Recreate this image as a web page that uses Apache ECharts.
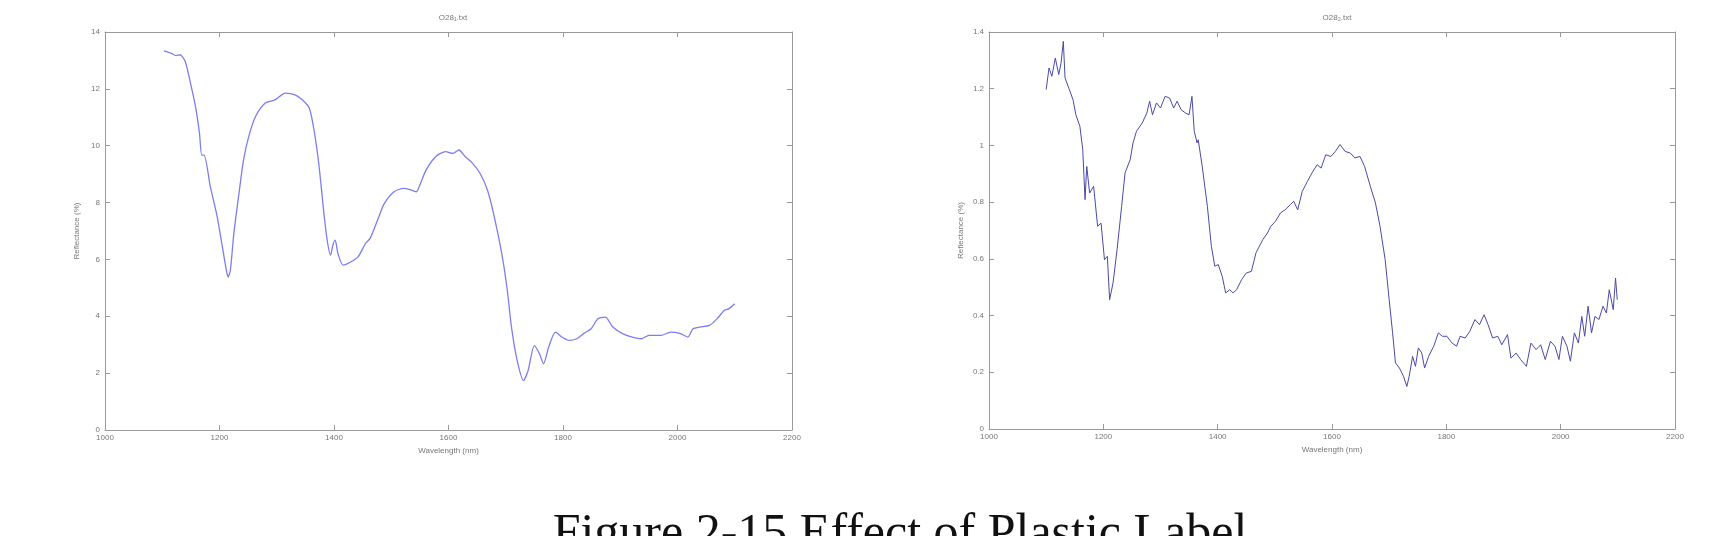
<!DOCTYPE html>
<html>
<head>
<meta charset="utf-8">
<script src="https://cdn.jsdelivr.net/npm/echarts@6/dist/echarts.min.js"></script>
<style>
html,body{margin:0;padding:0;background:#fff;}
#chart{width:1720px;height:536px;}
</style>
</head>
<body>
<div id="chart"></div>
<script>
// ---- Data ----
const xTicks = [1000, 1200, 1400, 1600, 1800, 2000, 2200];
const yTicksLeft = [0, 2, 4, 6, 8, 10, 12, 14];
const yTicksRight = [0, 0.2, 0.4, 0.6, 0.8, 1, 1.2, 1.4];

const titleLeft = 'O28₁.txt';
const titleRight = 'O28₂.txt';
const xName = 'Wavelength (nm)';
const yName = 'Reflectance (%)';
const figCaption = 'Figure 2-15 Effect of Plastic Label';

const wl1 = [1103,1116,1124,1131,1140,1150,1158,1165,1169,1173,1184,1196,1205,1212,1215,1219,1225,1234,1242,1251,1263,1280,1297,1315,1332,1345,1357,1366,1374,1383,1389,1394,1398,1402,1407,1416,1429,1442,1455,1463,1476,1488,1505,1522,1535,1544,1550,1561,1578,1595,1608,1618,1629,1642,1655,1668,1680,1693,1702,1710,1720,1731,1739,1750,1759,1766,1775,1787,1798,1811,1824,1836,1849,1861,1874,1887,1904,1921,1937,1950,1971,1988,2005,2018,2027,2039,2056,2069,2082,2090,2100];
const refl1 = [13.34,13.25,13.17,13.2,12.97,12.14,11.38,10.44,9.67,9.67,8.56,7.5,6.44,5.62,5.38,5.62,6.9,8.32,9.5,10.32,11.03,11.5,11.61,11.85,11.79,11.61,11.32,10.44,9.26,7.5,6.56,6.15,6.5,6.68,6.2,5.8,5.91,6.09,6.56,6.74,7.38,7.97,8.38,8.5,8.44,8.38,8.62,9.15,9.62,9.79,9.73,9.85,9.62,9.38,9.03,8.44,7.5,6.21,5.03,3.62,2.44,1.74,2.09,2.97,2.68,2.33,2.92,3.44,3.27,3.15,3.21,3.39,3.56,3.91,3.97,3.62,3.39,3.27,3.21,3.33,3.33,3.44,3.39,3.27,3.56,3.62,3.68,3.91,4.21,4.27,4.44];

const wl2 = [1100,1105,1110,1116,1122,1126,1130,1133,1140,1147,1152,1159,1164,1168,1171,1176,1183,1190,1196,1202,1207,1211,1217,1224,1232,1238,1247,1252,1258,1268,1276,1281,1286,1293,1300,1308,1316,1323,1329,1336,1344,1350,1355,1359,1364,1366,1373,1382,1389,1395,1401,1408,1414,1421,1427,1433,1442,1450,1459,1467,1479,1487,1493,1501,1510,1518,1527,1533,1540,1548,1557,1565,1574,1581,1589,1598,1606,1614,1623,1632,1640,1649,1657,1667,1676,1684,1693,1700,1706,1711,1718,1725,1731,1735,1741,1746,1751,1757,1762,1769,1778,1786,1793,1801,1810,1818,1824,1833,1841,1850,1858,1866,1873,1881,1890,1897,1907,1913,1922,1930,1940,1948,1957,1965,1973,1982,1990,1997,2003,2011,2017,2024,2031,2037,2042,2048,2054,2060,2067,2074,2080,2085,2092,2096,2099];
const refl2 = [1.197,1.273,1.244,1.308,1.25,1.29,1.367,1.238,1.2,1.161,1.108,1.067,0.985,0.809,0.926,0.832,0.856,0.715,0.726,0.597,0.609,0.456,0.515,0.632,0.785,0.903,0.95,1.009,1.05,1.079,1.114,1.156,1.108,1.15,1.132,1.173,1.167,1.132,1.156,1.126,1.114,1.108,1.173,1.05,1.009,1.02,0.926,0.785,0.644,0.574,0.58,0.538,0.48,0.491,0.48,0.491,0.527,0.55,0.556,0.621,0.668,0.691,0.715,0.732,0.762,0.773,0.791,0.803,0.773,0.838,0.873,0.903,0.932,0.92,0.967,0.961,0.979,1.003,0.979,0.973,0.956,0.961,0.926,0.856,0.797,0.715,0.597,0.456,0.339,0.233,0.215,0.186,0.15,0.186,0.256,0.221,0.286,0.268,0.215,0.256,0.292,0.339,0.327,0.327,0.303,0.292,0.327,0.321,0.344,0.386,0.368,0.403,0.368,0.321,0.327,0.297,0.333,0.25,0.268,0.245,0.221,0.303,0.28,0.297,0.245,0.309,0.292,0.245,0.327,0.292,0.239,0.339,0.303,0.397,0.327,0.433,0.339,0.397,0.386,0.433,0.409,0.491,0.421,0.532,0.456];

// ---- Chart ----
const chart = echarts.init(document.getElementById('chart'), null, {renderer: 'canvas'});
const labelStyle = {color: '#777', fontSize: 8, fontFamily: 'Liberation Sans, Arial, sans-serif'};
const lineCol = '#999';

function xAxes(gridIndex) {
  const base = {
    type: 'value', gridIndex, min: xTicks[0], max: xTicks[xTicks.length - 1],
    interval: xTicks[1] - xTicks[0],
    axisLine: {show: true, onZero: false, lineStyle: {color: lineCol, width: 1}},
    axisTick: {show: true, inside: true, length: 5, lineStyle: {color: lineCol}},
    splitLine: {show: false}
  };
  return [
    Object.assign({}, base, {
      position: 'bottom',
      axisLabel: Object.assign({margin: 4, showMinLabel: true, showMaxLabel: true,
        formatter: v => String(v)}, labelStyle),
      name: xName, nameLocation: 'middle', nameGap: 16,
      nameTextStyle: labelStyle
    }),
    Object.assign({}, base, {position: 'top', axisLabel: {show: false}})
  ];
}
function yAxes(gridIndex, ticks) {
  const base = {
    type: 'value', gridIndex, min: ticks[0], max: ticks[ticks.length - 1],
    interval: Math.round((ticks[1] - ticks[0]) * 10) / 10,
    axisLine: {show: true, onZero: false, lineStyle: {color: lineCol, width: 1}},
    axisTick: {show: true, inside: true, length: 5, lineStyle: {color: lineCol}},
    splitLine: {show: false}
  };
  return [
    Object.assign({}, base, {
      position: 'left',
      axisLabel: Object.assign({margin: 5, formatter: v => String(v)}, labelStyle),
      name: yName, nameLocation: 'middle', nameGap: 24, nameRotate: 90,
      nameTextStyle: labelStyle
    }),
    Object.assign({}, base, {position: 'right', axisLabel: {show: false}})
  ];
}

const xa = xAxes(0).concat(xAxes(1));
const ya = yAxes(0, yTicksLeft).concat(yAxes(1, yTicksRight));

chart.setOption({
  animation: false,
  backgroundColor: '#ffffff',
  title: [
    {text: titleLeft, left: 448, top: 9, textAlign: 'center',
     textStyle: {fontSize: 8, color: '#777', fontWeight: 'normal', fontFamily: 'Liberation Sans, Arial, sans-serif'}},
    {text: titleRight, left: 1332, top: 9, textAlign: 'center',
     textStyle: {fontSize: 8, color: '#777', fontWeight: 'normal', fontFamily: 'Liberation Sans, Arial, sans-serif'}}
  ],
  grid: [
    {left: 105, top: 32, width: 687, height: 398, containLabel: false},
    {left: 989, top: 32, width: 686, height: 397, containLabel: false}
  ],
  xAxis: xa,
  yAxis: ya,
  series: [
    {type: 'line', xAxisIndex: 0, yAxisIndex: 0, showSymbol: false, symbol: 'none', smooth: 0.25,
     data: wl1.map((w, i) => [w, refl1[i]]),
     lineStyle: {color: '#7d7def', width: 1.3}},
    {type: 'line', xAxisIndex: 2, yAxisIndex: 2, showSymbol: false, symbol: 'none',
     data: wl2.map((w, i) => [w, refl2[i]]),
     lineStyle: {color: '#4a4aa8', width: 1}}
  ],
  graphic: [
    {type: 'text', x: 900, y: 535, z: 100,
     style: {text: figCaption, align: 'center', verticalAlign: 'middle',
       fontSize: 50, fontFamily: '"Liberation Serif", "Times New Roman", serif', fill: '#111'}}
  ]
});
</script>
</body>
</html>
